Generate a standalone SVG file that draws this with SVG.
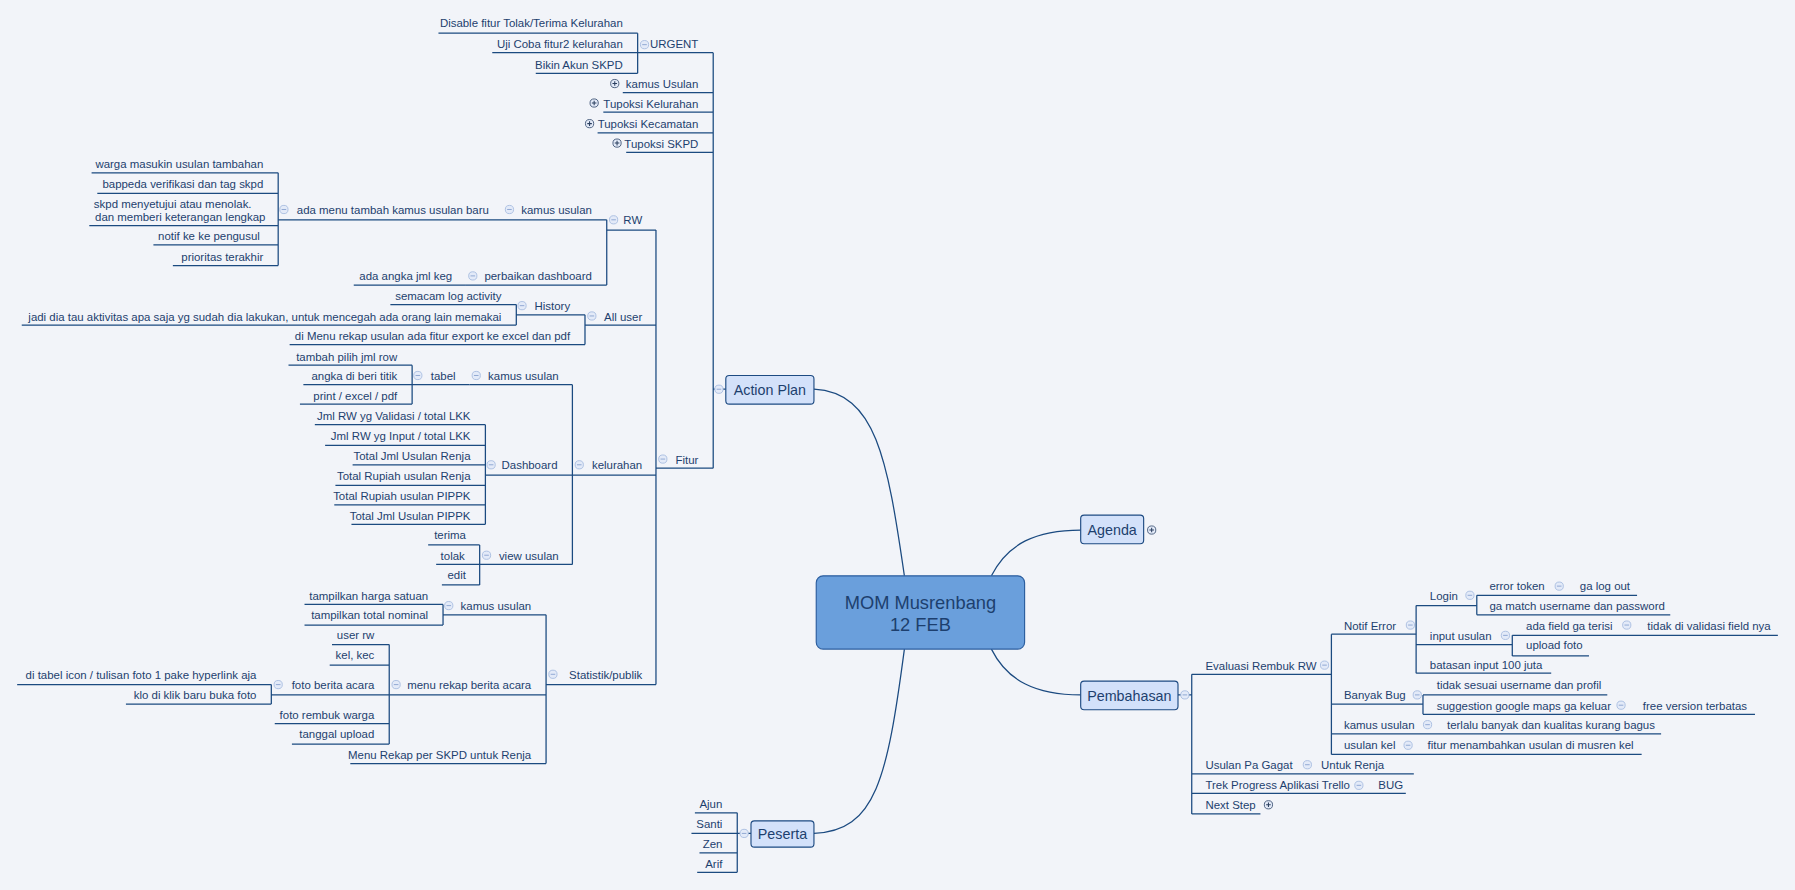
<svg xmlns="http://www.w3.org/2000/svg" xmlns:xlink="http://www.w3.org/1999/xlink" width="1795" height="890" viewBox="0 0 1795 890">
<style>
text{font-family:"Liberation Sans",Arial,sans-serif;font-size:10px;fill:#1d3f6e}
.e{text-anchor:end}
.c{fill:none;stroke:#1b4a80;stroke-width:1.1;stroke-linejoin:round}
.box{fill:#d3e1fa;stroke:#1d4a82;stroke-width:1}
.bt{font-size:12.5px;text-anchor:middle}
</style>
<defs>
<g id="mi"><circle r="3.6" fill="#e3eaf8" stroke="#a9bde0" stroke-width="0.8"/><path d="M-2 0H2" stroke="#8aa3d0" stroke-width="0.8"/></g>
<g id="pl"><circle r="3.6" fill="#e3eaf8" stroke="#44597a" stroke-width="0.8"/><path d="M-2 0H2M0 -2V2" stroke="#2a3e5e" stroke-width="0.9"/></g>
</defs>
<rect width="1795" height="890" fill="#f2f4f9"/>
<g transform="scale(1.1448)">
<g id="connectors" class="c">
<path d="M790 503C775 400 765 343 711 340M866 503C880 475 905 463 944 463M866 567C880 595 905 607 944 607M790 567C775 680 765 726 711 728"/>
<path d="M623 46V409M623 340H634M557 46H623M544 81H623M527 98H623M522 116H623M547 133H623M573 409H623"/>
<path d="M557 29V64M383 29H557M430 46H557M468 64H557"/>
<path d="M573 201V598M530 201H573M511 284H573M500 415H573M477 598H573"/>
<path d="M530 192V249M439 192H530M407 249H530M243 192H439"/>
<path d="M243 151V232M80 151H243M85 169H243M78 197H243M134 214H243M151 232H243M309 249H407"/>
<path d="M511 275V301M451 275H511M253 301H511M451 266V284M341 266H451M19 284H451"/>
<path d="M500 336V493M410 336H500M424 415H500M419 493H500"/>
<path d="M360 336H410M360 319V353M252 319H360M265 336H360M262 353H360"/>
<path d="M424 371V458M275 371H424M284 389H424M308 406H424M293 424H424M292 441H424M307 458H424"/>
<path d="M419 476V511M374 476H419M381 493H419M386 511H419"/>
<path d="M477 537V667M387 537H477M340 607H477M306 667H477M387 528V546M266 528H387M266 546H387"/>
<path d="M340 563V650M290 563H340M288 581H340M237 607H340M240 632H340M255 650H340M237 598V615M15 598H237M110 615H237"/>
<path d="M644 710V762M644 728H656M607 710H644M604 728H644M611 745H644M609 762H644"/>
<path d="M1029 607H1041M1041 589V711M1041 589H1163M1041 676H1235M1041 693H1228M1041 711H1101"/>
<path d="M1163 554V659M1163 554H1237M1163 615H1243M1163 641H1451M1163 659H1434"/>
<path d="M1237 529V588M1237 529H1290M1237 563H1321M1237 588H1355"/>
<path d="M1290 520V537M1290 520H1430M1290 537H1459M1321 555V573M1321 555H1553M1321 573H1388M1243 607V624M1243 607H1404M1243 624H1533"/>
</g>
<g id="central"><rect x="713" y="503" width="182" height="64" rx="6" fill="#6a9fdc" stroke="#2b5d9e" stroke-width="1"/><text class="bt" x="804" y="532" style="font-size:16px">MOM Musrenbang</text><text class="bt" x="804" y="551" style="font-size:16px">12 FEB</text></g>
<g id="action-plan"><rect class="box" x="634" y="328" width="77" height="25" rx="3"/><text class="bt" x="672.5" y="345">Action Plan</text><use href="#mi" x="628" y="340"/></g>
<g id="agenda"><rect class="box" x="944" y="450" width="55" height="25" rx="3"/><text class="bt" x="971.5" y="467">Agenda</text><use href="#pl" x="1006" y="463"/></g>
<g id="pembahasan"><rect class="box" x="944" y="595" width="85" height="25" rx="3"/><text class="bt" x="986.5" y="612">Pembahasan</text><use href="#mi" x="1035" y="607"/></g>
<g id="peserta"><rect class="box" x="656" y="717" width="55" height="23" rx="3"/><text class="bt" x="683.5" y="733">Peserta</text><use href="#mi" x="650" y="728"/></g>
<g id="urgent"><text class="e" x="610" y="42">URGENT</text><use href="#mi" x="563" y="39"/></g>
<g id="u1"><text class="e" x="544" y="24">Disable fitur Tolak/Terima Kelurahan</text></g>
<g id="u2"><text class="e" x="544" y="42">Uji Coba fitur2 kelurahan</text></g>
<g id="u3"><text class="e" x="544" y="60">Bikin Akun SKPD</text></g>
<g id="kamus-usulan-top"><text class="e" x="610" y="77">kamus Usulan</text><use href="#pl" x="537" y="73"/></g>
<g id="tupoksi-kel"><text class="e" x="610" y="94">Tupoksi Kelurahan</text><use href="#pl" x="519" y="90"/></g>
<g id="tupoksi-kec"><text class="e" x="610" y="112">Tupoksi Kecamatan</text><use href="#pl" x="515" y="108"/></g>
<g id="tupoksi-skpd"><text class="e" x="610" y="129">Tupoksi SKPD</text><use href="#pl" x="539" y="125"/></g>
<g id="fitur"><text class="e" x="610" y="405">Fitur</text><use href="#mi" x="579" y="401"/></g>
<g id="rw"><text class="e" x="561" y="196">RW</text><use href="#mi" x="536" y="192"/></g>
<g id="rw-kamus"><text class="e" x="517" y="187">kamus usulan</text><use href="#mi" x="445" y="183"/></g>
<g id="ada-menu"><text class="e" x="427" y="187">ada menu tambah kamus usulan baru</text><use href="#mi" x="248" y="183"/></g>
<g id="am1"><text class="e" x="230" y="147">warga masukin usulan tambahan</text></g>
<g id="am2"><text class="e" x="230" y="164">bappeda verifikasi dan tag skpd</text></g>
<g id="am3"><text x="82" y="182">skpd menyetujui atau menolak.</text><text x="83" y="193">dan memberi keterangan lengkap</text></g>
<g id="am4"><text class="e" x="227" y="210">notif ke ke pengusul</text></g>
<g id="am5"><text class="e" x="230" y="228">prioritas terakhir</text></g>
<g id="perbaikan"><text class="e" x="517" y="245">perbaikan dashboard</text><use href="#mi" x="413" y="241"/></g>
<g id="angka-keg"><text class="e" x="395" y="245">ada angka jml keg</text></g>
<g id="all-user"><text class="e" x="561" y="280">All user</text><use href="#mi" x="517" y="276"/></g>
<g id="history"><text class="e" x="498" y="271">History</text><use href="#mi" x="456" y="267"/></g>
<g id="h1"><text class="e" x="438" y="262">semacam log activity</text></g>
<g id="h2"><text class="e" x="438" y="280">jadi dia tau aktivitas apa saja yg sudah dia lakukan, untuk mencegah ada orang lain memakai</text></g>
<g id="export"><text class="e" x="498" y="297">di Menu rekap usulan ada fitur export ke excel dan pdf</text></g>
<g id="kelurahan"><text class="e" x="561" y="410">kelurahan</text><use href="#mi" x="506" y="406"/></g>
<g id="kel-kamus"><text class="e" x="488" y="332">kamus usulan</text><use href="#mi" x="416" y="328"/></g>
<g id="tabel"><text class="e" x="398" y="332">tabel</text><use href="#mi" x="365" y="328"/></g>
<g id="t1"><text class="e" x="347" y="315">tambah pilih jml row</text></g>
<g id="t2"><text class="e" x="347" y="332">angka di beri titik</text></g>
<g id="t3"><text class="e" x="347" y="349">print /  excel / pdf</text></g>
<g id="dashboard"><text class="e" x="487" y="410">Dashboard</text><use href="#mi" x="429" y="406"/></g>
<g id="d1"><text class="e" x="411" y="367">Jml RW yg Validasi / total LKK</text></g>
<g id="d2"><text class="e" x="411" y="384">Jml RW yg Input / total LKK</text></g>
<g id="d3"><text class="e" x="411" y="402">Total Jml Usulan Renja</text></g>
<g id="d4"><text class="e" x="411" y="419">Total Rupiah usulan Renja</text></g>
<g id="d5"><text class="e" x="411" y="437">Total Rupiah usulan PIPPK</text></g>
<g id="d6"><text class="e" x="411" y="454">Total Jml Usulan PIPPK</text></g>
<g id="view-usulan"><text class="e" x="488" y="489">view usulan</text><use href="#mi" x="425" y="485"/></g>
<g id="v1"><text class="e" x="407" y="471">terima</text></g>
<g id="v2"><text class="e" x="406" y="489">tolak</text></g>
<g id="v3"><text class="e" x="407" y="506">edit</text></g>
<g id="statistik"><text class="e" x="561" y="593">Statistik/publik</text><use href="#mi" x="483" y="589"/></g>
<g id="st-kamus"><text class="e" x="464" y="533">kamus usulan</text><use href="#mi" x="392" y="529"/></g>
<g id="sk1"><text class="e" x="374" y="524">tampilkan harga satuan</text></g>
<g id="sk2"><text class="e" x="374" y="541">tampilkan total nominal</text></g>
<g id="menu-rekap"><text class="e" x="464" y="602">menu rekap berita acara</text><use href="#mi" x="346" y="598"/></g>
<g id="mr1"><text class="e" x="327" y="558">user rw</text></g>
<g id="mr2"><text class="e" x="327" y="576">kel, kec</text></g>
<g id="foto-ba"><text class="e" x="327" y="602">foto berita acara</text><use href="#mi" x="243" y="598"/></g>
<g id="fb1"><text class="e" x="224" y="593">di tabel icon / tulisan foto 1 pake hyperlink aja</text></g>
<g id="fb2"><text class="e" x="224" y="611">klo di klik baru buka foto</text></g>
<g id="mr4"><text class="e" x="327" y="628">foto rembuk warga</text></g>
<g id="mr5"><text class="e" x="327" y="645">tanggal upload</text></g>
<g id="rekap-skpd"><text class="e" x="464" y="663">Menu Rekap per SKPD untuk Renja</text></g>
<g id="p1"><text class="e" x="631" y="706">Ajun</text></g>
<g id="p2"><text class="e" x="631" y="723">Santi</text></g>
<g id="p3"><text class="e" x="631" y="741">Zen</text></g>
<g id="p4"><text class="e" x="631" y="758">Arif</text></g>
<g id="evaluasi"><text x="1053" y="585">Evaluasi Rembuk RW</text><use href="#mi" x="1157" y="581"/></g>
<g id="notif"><text x="1174" y="550">Notif Error</text><use href="#mi" x="1232" y="546"/></g>
<g id="login"><text x="1249" y="524">Login</text><use href="#mi" x="1284" y="520"/></g>
<g id="err-token"><text x="1301" y="515">error token</text><use href="#mi" x="1362" y="512"/></g>
<g id="logout"><text x="1380" y="515">ga log out</text></g>
<g id="ga-match"><text x="1301" y="533">ga match username dan password</text></g>
<g id="input-usulan"><text x="1249" y="559">input usulan</text><use href="#mi" x="1315" y="555"/></g>
<g id="ada-field"><text x="1333" y="550">ada field ga terisi</text><use href="#mi" x="1421" y="546"/></g>
<g id="tidak-validasi"><text x="1439" y="550">tidak di validasi field nya</text></g>
<g id="upload"><text x="1333" y="567">upload foto</text></g>
<g id="batasan"><text x="1249" y="584">batasan input 100 juta</text></g>
<g id="banyak-bug"><text x="1174" y="611">Banyak Bug</text><use href="#mi" x="1238" y="607"/></g>
<g id="bb1"><text x="1255" y="602">tidak sesuai username dan profil</text></g>
<g id="bb2"><text x="1255" y="620">suggestion google maps ga keluar</text><use href="#mi" x="1416" y="616"/></g>
<g id="free"><text x="1435" y="620">free version terbatas</text></g>
<g id="ev-kamus"><text x="1174" y="637">kamus usulan</text><use href="#mi" x="1247" y="633"/></g>
<g id="terlalu"><text x="1264" y="637">terlalu banyak dan kualitas kurang bagus</text></g>
<g id="usulan-kel"><text x="1174" y="654">usulan kel</text><use href="#mi" x="1230" y="651"/></g>
<g id="fitur-tambah"><text x="1247" y="654">fitur menambahkan usulan di musren kel</text></g>
<g id="gagat"><text x="1053" y="672">Usulan Pa Gagat</text><use href="#mi" x="1142" y="668"/></g>
<g id="renja"><text x="1154" y="672">Untuk Renja</text></g>
<g id="trello"><text x="1053" y="689">Trek Progress Aplikasi Trello</text><use href="#mi" x="1187" y="686"/></g>
<g id="bug"><text x="1204" y="689">BUG</text></g>
<g id="next-step"><text x="1053" y="707">Next Step</text><use href="#pl" x="1108" y="703"/></g>
</g>
</svg>
